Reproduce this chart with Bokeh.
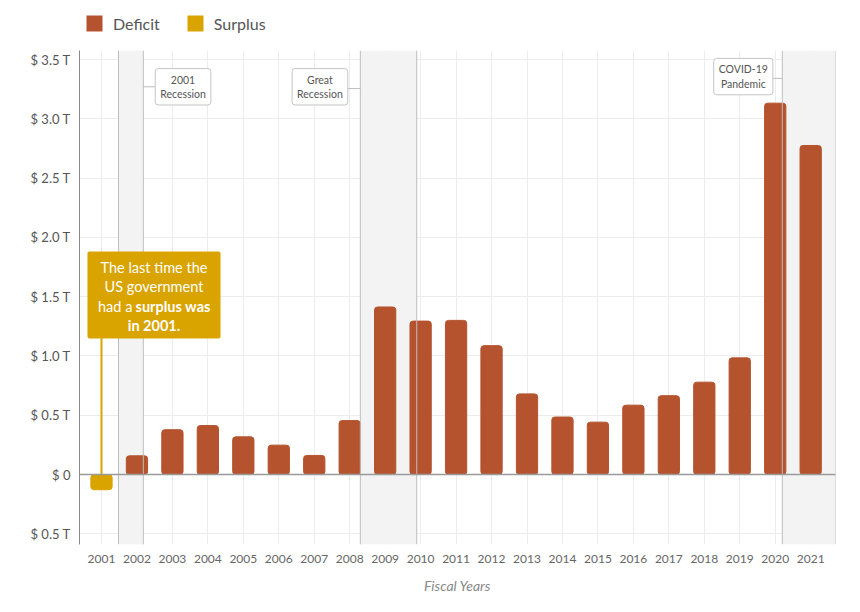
from bokeh.plotting import figure
from bokeh.layouts import column
from bokeh.models import (ColumnDataSource, FixedTicker, CustomJSTickFormatter, Span,
                          BoxAnnotation, Label, Legend, LegendItem, Range1d)
from bokeh.embed import file_html
from bokeh.resources import INLINE

# Federal budget balance by fiscal year, trillions of dollars (negative = surplus)
years = list(range(2001, 2022))
balance = [-0.128, 0.158, 0.378, 0.413, 0.318, 0.248, 0.161, 0.455, 1.413, 1.294,
           1.300, 1.087, 0.680, 0.485, 0.442, 0.585, 0.665, 0.779, 0.984, 3.132, 2.775]

y_ticks = [-0.5, 0, 0.5, 1.0, 1.5, 2.0, 2.5, 3.0, 3.5]

# shaded periods (fiscal-year axis positions)
periods = [("2001\nRecession", 2001.48, 2002.18),
           ("Great\nRecession", 2008.30, 2009.89),
           ("COVID-19\nPandemic", 2020.20, 2021.70)]

DEFICIT = "#B5532E"
SURPLUS = "#D9A300"
FONT = "Lato"

deficit = ColumnDataSource(dict(x=[y for y, v in zip(years, balance) if v >= 0],
                                top=[v for v in balance if v >= 0]))
surplus = ColumnDataSource(dict(x=[y for y, v in zip(years, balance) if v < 0],
                                top=[v for v in balance if v < 0]))

p = figure(width=844, height=546, output_backend="svg", toolbar_location=None,
           x_range=Range1d(2000.38, 2021.70), y_range=Range1d(-0.59, 3.576),
           min_border_left=79, min_border_right=9, min_border_top=0, min_border_bottom=49)
p.outline_line_color = None
p.background_fill_color = "white"

# grid
p.xgrid.ticker = FixedTicker(ticks=years)
p.ygrid.ticker = FixedTicker(ticks=y_ticks)
p.grid.grid_line_color = "#ececec"
p.grid.grid_line_width = 1

# shaded bands
for name, x0, x1 in periods:
    p.add_layout(BoxAnnotation(left=x0, right=x1, fill_color="#f3f3f3", fill_alpha=1,
                               line_alpha=0, level="underlay"))
    for xe in (x0, x1):
        p.add_layout(Span(location=xe, dimension="height", line_color="#bdbdbd", line_width=1))

p.add_layout(Span(location=0, dimension="width", line_color="#9a9a9a", line_width=1.5))

p.vbar(x="x", top="top", bottom=0, width=0.6, source=deficit,
       fill_color=DEFICIT, line_color=DEFICIT, border_radius=3)
p.vbar(x="x", top="top", bottom=0, width=0.6, source=surplus,
       fill_color=SURPLUS, line_color=SURPLUS, border_radius=3)

# axes
p.xaxis.ticker = FixedTicker(ticks=years)
p.xaxis.axis_line_color = None
p.xaxis.major_tick_line_color = None
p.xaxis.minor_tick_line_color = None
p.xaxis.major_label_text_font = FONT
p.xaxis.major_label_text_font_size = "12px"
p.xaxis.major_label_text_color = "#666666"
p.xaxis.major_label_standoff = 4
p.xaxis.axis_label = "Fiscal Years"
p.xaxis.axis_label_text_font = FONT
p.xaxis.axis_label_text_font_style = "italic"
p.xaxis.axis_label_text_font_size = "14px"
p.xaxis.axis_label_text_color = "#888888"
p.xaxis.axis_label_standoff = 11

p.yaxis.ticker = FixedTicker(ticks=y_ticks)
p.yaxis.formatter = CustomJSTickFormatter(code="""
    if (Math.abs(tick) < 1e-9) return "$ 0";
    return "$ " + Math.abs(tick).toFixed(1) + " T";
""")
p.yaxis.axis_line_color = "#8a8a8a"
p.yaxis.major_tick_line_color = None
p.yaxis.minor_tick_line_color = None
p.yaxis.major_label_text_font = FONT
p.yaxis.major_label_text_font_size = "13px"
p.yaxis.major_label_text_color = "#555555"
p.yaxis.major_label_standoff = 3

# period labels with connectors
boxes = [(2003.30, 3.27, 2002.52), (2007.16, 3.27, 2007.94), (2019.10, 3.356, 2019.87)]
for (name, x0, x1), (bx, by, edge) in zip(periods, boxes):
    p.add_layout(Label(x=bx, y=by, text=name, text_align="center", text_baseline="middle",
                       text_font=FONT, text_font_size="10.5px", text_color="#555555",
                       background_fill_color="white", border_line_color="#c4c4c4",
                       border_radius=3, padding=5))
    if edge < x0:
        p.segment(x0=[edge], x1=[x0], y0=[by - 0.015], y1=[by - 0.015], line_color="#bdbdbd")
    else:
        p.segment(x0=[x1 if edge > x1 else edge], x1=[edge], y0=[by], y1=[by], line_color="#bdbdbd")

# surplus callout
p.segment(x0=[2001], x1=[2001], y0=[1.15], y1=[0], line_color=SURPLUS, line_width=2)
p.add_layout(BoxAnnotation(left=2000.605, right=2004.357, top=1.88, bottom=1.147,
                           fill_color=SURPLUS, fill_alpha=1, line_alpha=0, border_radius=2))
cx = 2002.48
for txt, ty in [("The last time the", 1.745), ("US government", 1.585)]:
    p.add_layout(Label(x=cx, y=ty, text=txt, text_align="center", text_baseline="middle",
                       text_font=FONT, text_font_size="14.5px", text_color="white"))
p.add_layout(Label(x=2001.87, y=1.417, text="had a", text_align="right", text_baseline="middle",
                   text_font=FONT, text_font_size="14.5px", text_color="white"))
p.add_layout(Label(x=2001.96, y=1.417, text="surplus was", text_align="left", text_baseline="middle",
                   text_font=FONT, text_font_size="14.5px", text_color="white", text_font_style="bold"))
p.add_layout(Label(x=cx, y=1.256, text="in 2001.", text_align="center", text_baseline="middle",
                   text_font=FONT, text_font_size="14.5px", text_color="white", text_font_style="bold"))

# legend strip above the chart (its glyphs have zero size; only the legend is drawn)
lg = figure(width=844, height=50, output_backend="svg", toolbar_location=None,
            x_range=Range1d(0, 1), y_range=Range1d(0, 1), x_axis_location=None,
            y_axis_location=None, min_border=0)
lg.grid.visible = False
lg.outline_line_color = None
g_def = lg.vbar(x=[0.5], top=[0], bottom=0, width=0, fill_color=DEFICIT, line_color=DEFICIT,
                line_alpha=0, border_radius=3)
g_sur = lg.vbar(x=[0.5], top=[0], bottom=0, width=0, fill_color=SURPLUS, line_color=SURPLUS,
                line_alpha=0, border_radius=3)
legend = Legend(items=[LegendItem(label="Deficit", renderers=[g_def]),
                       LegendItem(label="Surplus", renderers=[g_sur])],
                orientation="horizontal", location=(5, 17), padding=0, margin=0,
                glyph_width=20, glyph_height=20, label_height=20, label_standoff=9, spacing=25,
                label_text_font=FONT, label_text_font_size="16px", label_text_color="#555555",
                background_fill_alpha=0, border_line_color=None)
lg.add_layout(legend, "center")

open("out.html", "w").write(file_html(column(lg, p), INLINE))
